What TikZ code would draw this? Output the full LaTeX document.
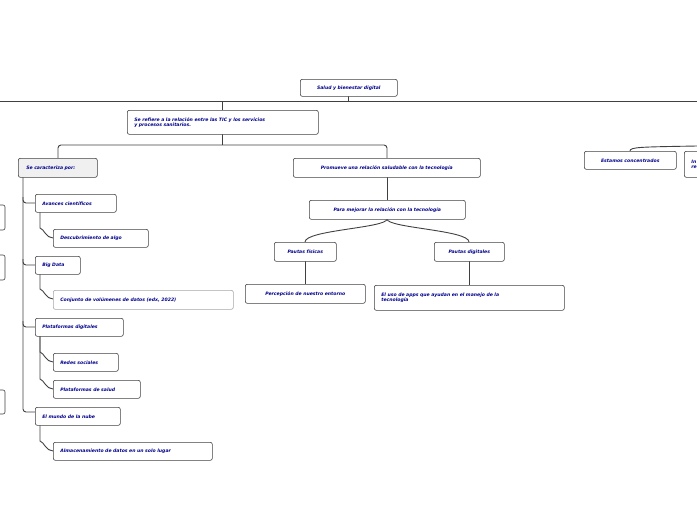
\documentclass[tikz,border=0pt]{standalone}
\usepackage{fontspec}
\setmainfont{DejaVu Sans}
\begin{document}
\begin{tikzpicture}[x=1pt,y=-1pt,
  box/.style={draw=black!75,line width=0.6pt,rounded corners=2pt,fill=white,
    font=\bfseries\itshape\fontsize{4.6}{5.2}\selectfont,text=blue!55!black,
    anchor=north west,inner sep=0pt,align=left},
  ln/.style={draw=black!75,line width=0.9pt}]
\useasboundingbox (0,0) rectangle (697,520);
\newcommand\bx[6]{\node[box,minimum width=#4-#2,minimum height=#5-#3,text width=#4-#2-14] (#1) at (#2,#3) {#6};}
\newcommand\bxc[6]{\node[box,minimum width=#4-#2,minimum height=#5-#3,text width=#4-#2-8,align=center] (#1) at (#2,#3) {#6};}
% lines
\draw[ln] (0,101) -- (697,101);
\draw[ln] (348,96) -- (348,101);
\draw[ln] (222,101) -- (222,110);
\draw[ln] (222,134) -- (222,145);
\draw[ln,rounded corners=3pt] (58,158) -- (58,145) -- (387,145) -- (387,158);
\draw[ln] (630,151) .. controls (630,147) and (640,147) .. (697,146);
\draw[ln] (387,177) -- (387,200);
\draw[ln] (387,219) .. controls (387,228) and (305,230) .. (305,242);
\draw[ln] (387,219) .. controls (387,228) and (469,230) .. (469,242);
\draw[ln] (305,261) -- (305,284);
\draw[ln] (469,261) -- (469,285);
\draw[ln,rounded corners=3pt] (23,177) -- (23,412) -- (35,412);
\foreach \y in {203,265,327}{\draw[ln,rounded corners=3pt] (23,\y-6) -- (23,\y) -- (35,\y);}
\foreach \ya/\yb in {212/238,274/299,336/362,336/389,425/451}{
  \draw[ln] (40,\ya) -- (40,\yb-10) .. controls (44,\yb-9) and (46,\yb) .. (53,\yb);}
% partial left boxes
\foreach \a/\b in {205/230,255/280,390/414}{\draw[draw=black!75,line width=0.6pt,rounded corners=2pt,fill=white] (-5,\a) rectangle (5,\b);}
% nodes
\bxc{salud}{300}{79}{397}{96}{Salud y bienestar digital}
\bx{refiere}{127}{110}{318}{134}{Se refiere a la relación entre las TIC y los servicios\\y procesos sanitarios.}
\node[box,fill=black!6,minimum width=79,minimum height=19,text width=71,align=left] (carac) at (18,158) {\hspace*{4pt}Se caracteriza por:};
\bxc{promueve}{293}{158}{480}{177}{Promueve una relación saludable con la tecnología}
\bxc{estamos}{584}{151}{676}{169}{Estamos concentrados}
\bx{partial}{684}{151}{740}{177}{In\\re}
\bx{avances}{35}{194}{116}{212}{Avances científicos}
\bx{desc}{53}{229}{148}{247}{Descubrimiento de algo}
\bx{big}{35}{256}{80}{274}{Big Data}
\node[box,draw=black!35,minimum width=180,minimum height=19,text width=166] (conj) at (53,290) {Conjunto de volúmenes de datos (edx, 2022)};
\bx{plat}{35}{318}{123}{336}{Plataformas digitales}
\bx{redes}{53}{353}{118}{371}{Redes sociales}
\bx{salud2}{53}{380}{140}{398}{Plataformas de salud}
\bx{nube}{35}{407}{120}{425}{El mundo de la nube}
\bx{alm}{53}{442}{212}{460}{Almacenamiento de datos en un solo lugar}
\bxc{mejorar}{309}{200}{465}{219}{Para mejorar la relación con la tecnología}
\bxc{fis}{274}{242}{336}{261}{Pautas físicas}
\bxc{dig}{434}{242}{504}{261}{Pautas digitales}
\bxc{perc}{245}{284}{365}{303}{Percepción de nuestro entorno}
\bx{uso}{374}{285}{564}{310}{El uso de apps que ayudan en el manejo de la\\tecnología}
\end{tikzpicture}
\end{document}
